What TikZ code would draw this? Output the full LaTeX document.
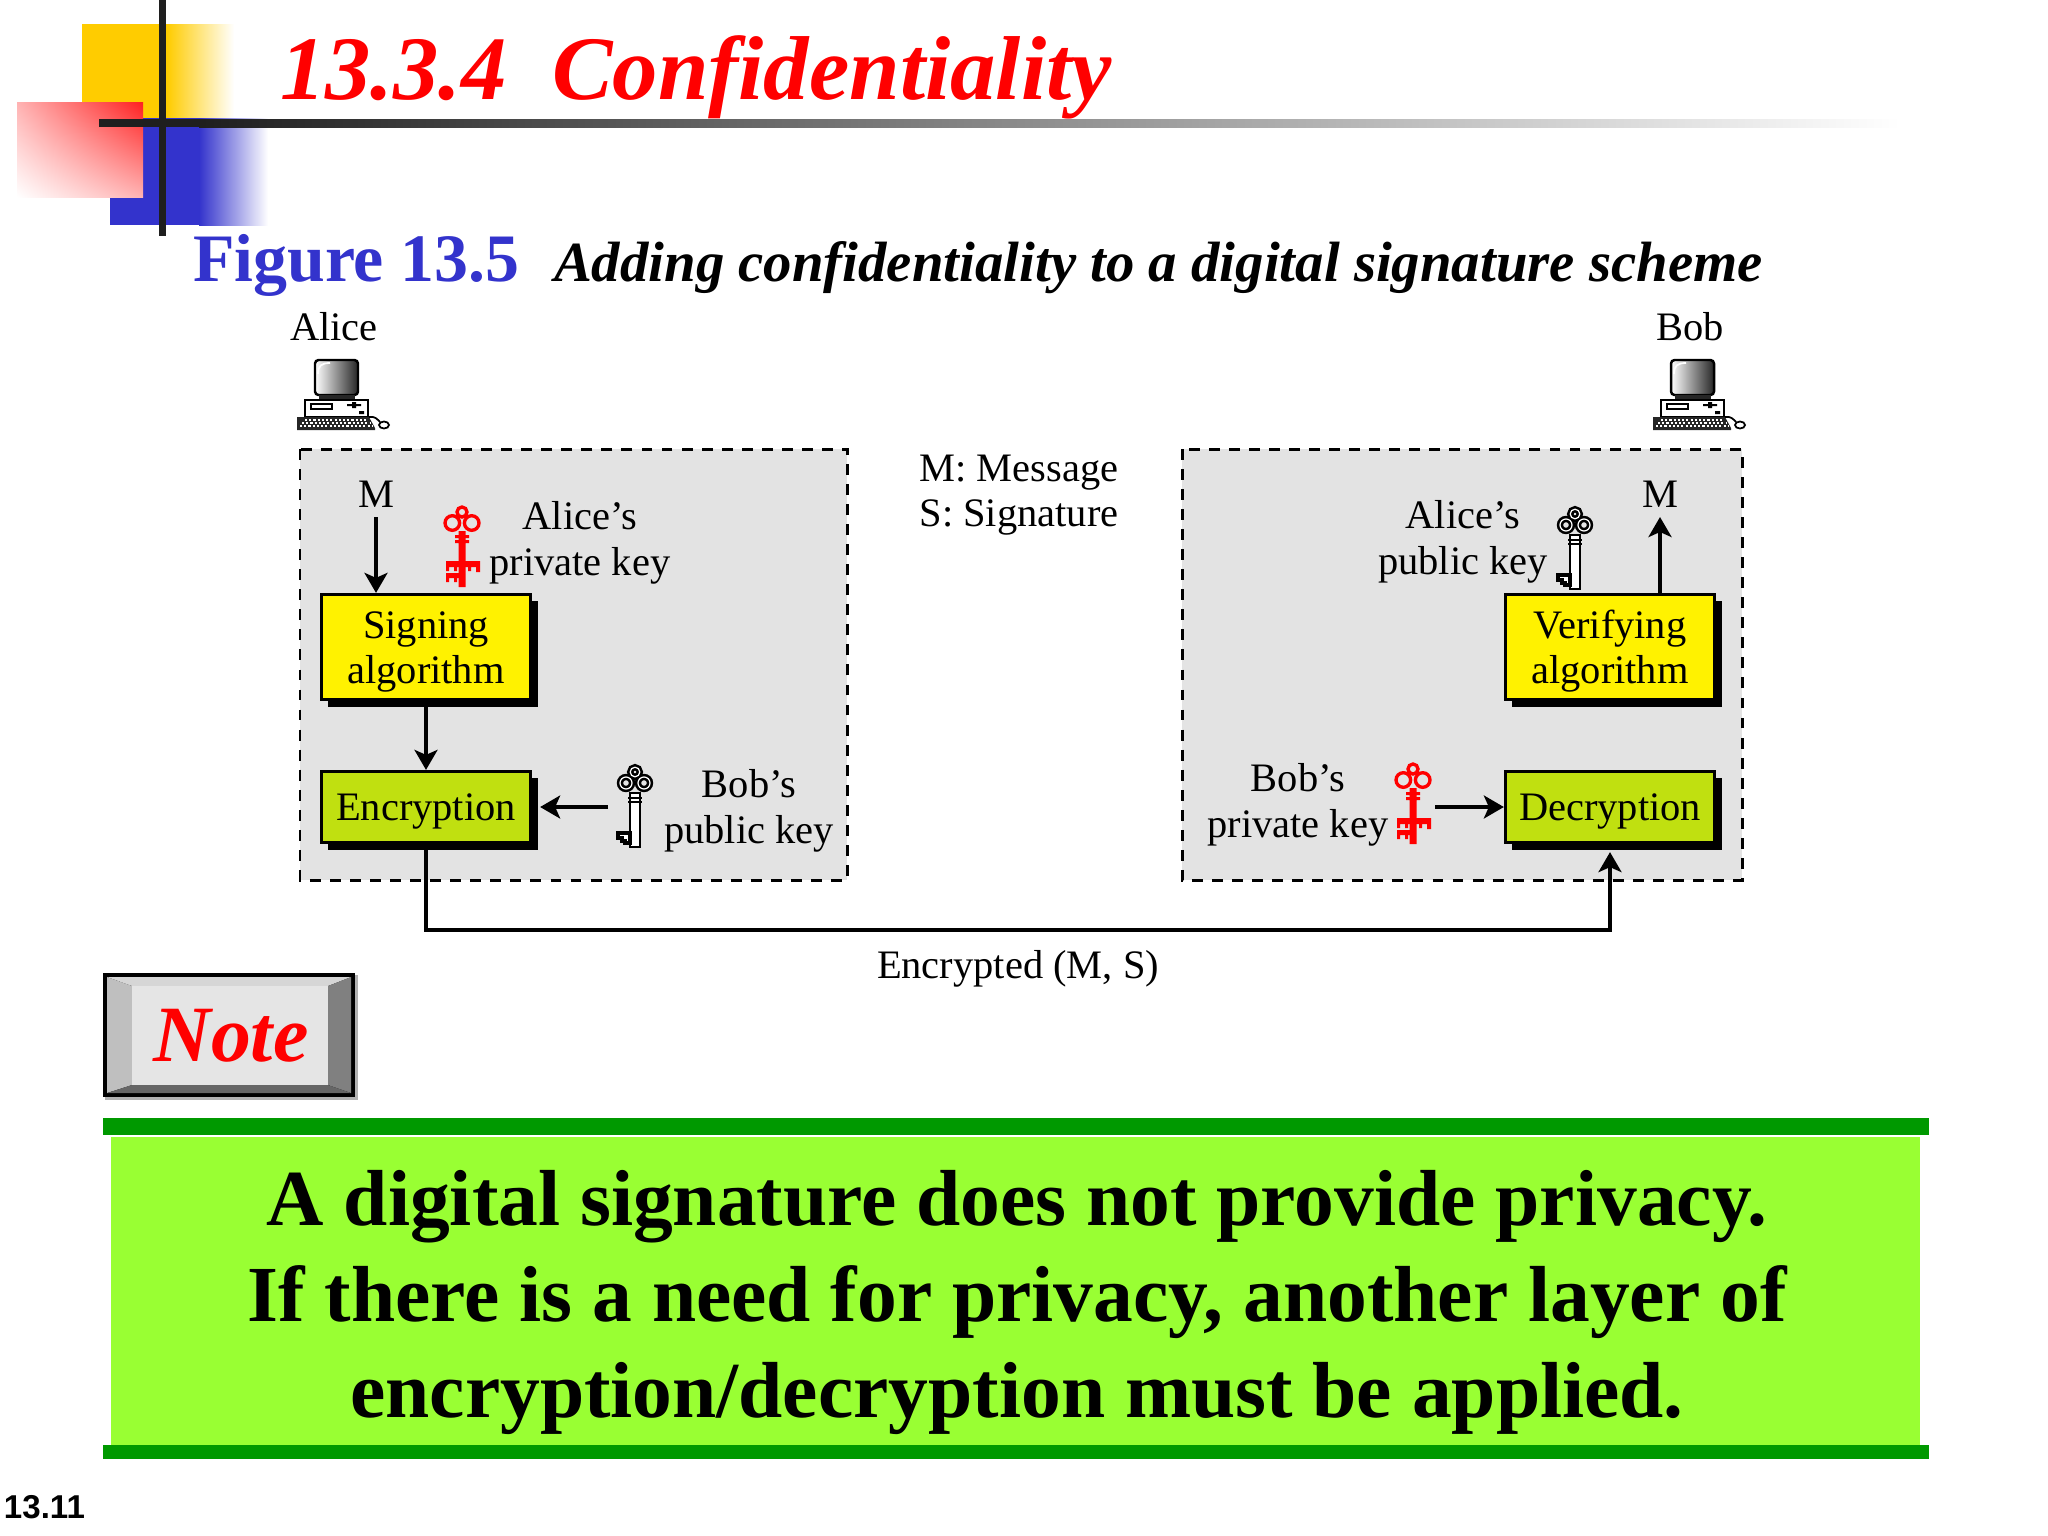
\documentclass[tikz,border=0pt]{standalone}
\usepackage{fontspec}
\setmainfont{Liberation Serif}
\newfontfamily\arialfont{Liberation Sans}
\usetikzlibrary{arrows.meta,calc,shadows,shadings}
\definecolor{slideyellow}{HTML}{FFCC00}
\definecolor{slideblue}{HTML}{3333CC}
\definecolor{slidered}{HTML}{FF2020}
\definecolor{panelgray}{HTML}{E3E3E3}
\definecolor{cipherlime}{HTML}{C0E010}
\definecolor{notegreen}{HTML}{99FF33}
\definecolor{bargreen}{HTML}{009900}
\begin{document}
\begin{tikzpicture}[x=0.01cm,y=-0.01cm]
	\tikzstyle{invisible} = [outer sep=0,inner sep=0,minimum size=0]
	\tikzstyle{textlabel} = [invisible, align=center, font=\fontsize{11.5pt}{13pt}\selectfont]
	\tikzstyle{panel} = [draw=black, fill=panelgray, line width=0.85pt, dash pattern=on 3.1pt off 2.6pt]
	\tikzstyle{shadowbox} = [draw=black, line width=0.9pt, align=center, inner sep=0, minimum width=2.09cm, font=\fontsize{11.5pt}{13pt}\selectfont, drop shadow={shadow xshift=0.07cm, shadow yshift=-0.07cm, opacity=1, fill=black}]
	\tikzstyle{algobox} = [shadowbox, fill=yellow, minimum height=1.05cm, execute at begin node={\rule{0pt}{23.5pt}}]
	\tikzstyle{cipherbox} = [shadowbox, fill=cipherlime, minimum height=0.71cm, execute at begin node={\rule{0pt}{10pt}}]
	\tikzstyle{arrowline} = [line width=1pt, -{Stealth[length=0.2cm,width=0.23cm,inset=0.05cm]}]
	\tikzset{
		privatekey/.pic={
			\draw [red, line width=0.95pt] (0,7) circle [radius=5] (-9.7,18) circle [radius=7.3] (9.7,18) circle [radius=7.3];
			\fill [red] (-3.5,26) rectangle (3.5,82) (-7,30) rectangle (7,33) (-7,35) rectangle (7,38);
			\fill [red] (-16,56) rectangle (18,62) (-16,62) rectangle (-13,66) (-8,62) rectangle (-5,66) (6,62) rectangle (9,66) (14,62) rectangle (18,67);
			\fill [red] (-16,68) rectangle (0,73) (-16,73) rectangle (-13,77) (-8,73) rectangle (-5,77);
		},
		publickey/.pic={
			\draw [black, line width=1.8pt] (0,7) circle [radius=4.8] (-9,18) circle [radius=6] (9,18) circle [radius=6];
			\draw [white, line width=0.35pt] (0,7) circle [radius=4.8] (-9,18) circle [radius=6] (9,18) circle [radius=6];
			\filldraw [fill=white, draw=black, line width=0.8pt] (-5,28) rectangle (5,82);
			\draw [black, line width=0.6pt] (-7,33) -- (7,33) (-7,37) -- (7,37);
			\filldraw [fill=white, draw=black, line width=0.9pt] (-17,68) -- (-5,68) -- (-5,78) -- (-10,78) -- (-10,76) -- (-13,76) -- (-13,73) -- (-17,73) -- cycle;
		},
		computer/.pic={
			\fill [left color=white, right color=black!85, draw=black, line width=0.7pt, rounded corners=1pt] (18,0) rectangle (61,35);
			\draw [white, line width=0.5pt] (21,14) .. controls (21,6) and (24,3) .. (33,3);
			\fill [black!85] (22,35) rectangle (58,40);
			\filldraw [fill=white, draw=black, line width=0.6pt] (8,40) rectangle (71,57);
			\draw [black, line width=0.4pt] (14,44) rectangle (35,49);
			\fill [black] (50,44) rectangle (64,46) (55,42) rectangle (59,48) (62,51) rectangle (67,54);
			\fill [black!85] (0,57) -- (6,57) -- (72,57) -- (78,68) -- (78,70) -- (0,70) -- cycle;
			\draw [white, line width=0.35pt, dash pattern=on 0.6pt off 0.6pt] (8,60) -- (70,60) (5,63) -- (73,63) (3,66) -- (75,66);
			\draw [black, line width=0.5pt] (72,57) .. controls (78,56) and (80,59) .. (83,62);
			\draw [black, fill=white, line width=0.5pt] (87,65) ellipse [x radius=5, y radius=3.5];
		}
	}
	\useasboundingbox (0,0) rectangle (2048,1536);

	% corner ornament
	\fill [slideyellow] (82,24) rectangle (168,118);
	\fill [left color=slideyellow, right color=white] (167,24) rectangle (234,118);
	\fill [slideblue] (110,118) rectangle (200,225);
	\fill [left color=slideblue, right color=white] (199,118) rectangle (268,225);
	\fill [upper right=slidered, lower left=white, upper left=red!30!white, lower right=red!30!white] (17,102) rectangle (143,197);
	\fill [black!88] (159,0) rectangle (166,236);
	\fill [black!88] (99,119) rectangle (200,127);
	\fill [left color=black!88, middle color=black!28, right color=white] (199,119) rectangle (1900,127);

	% headings
	\node [invisible, anchor=base west, text=red, font=\fontsize{25.8pt}{28pt}\selectfont\bfseries\itshape] (title) at (280,99) {13.3.4\ \ Confidentiality};
	\node [invisible, anchor=base west, text=slideblue, font=\fontsize{19.3pt}{22pt}\selectfont\bfseries] (figno) at (193,281) {Figure 13.5};
	\node [invisible, anchor=base west, font=\fontsize{16.15pt}{18pt}\selectfont\bfseries\itshape] (caption) at (554,281) {Adding confidentiality to a digital signature scheme};

	% the two sides
	\node [textlabel] (alice) at (334,327) {Alice};
	\node [textlabel] (bob) at (1690,327) {Bob};
	\pic at (297,360) {computer};
	\pic at (1653,360) {computer};
	\draw [panel] (300,449) rectangle (847,880);
	\draw [panel] (1182,449) rectangle (1742,880);
	\node [textlabel, align=left] (legend) at (1019,495) {M: Message\\S: Signature};

	\node [algobox] (signing) at (426,647) {Signing\\algorithm};
	\node [cipherbox] (encryption) at (426,807) {Encryption};
	\node [algobox] (verifying) at (1610,647) {Verifying\\algorithm};
	\node [cipherbox] (decryption) at (1610,807) {Decryption};

	\node [textlabel] (msgleft) at (376,494) {M};
	\node [textlabel] (msgright) at (1660,494) {M};
	\node [textlabel] (alicepriv) at (580,543) {Alice’s\\private key};
	\node [textlabel] (bobpub) at (749,811) {Bob’s\\public key};
	\node [textlabel] (alicepub) at (1463,542) {Alice’s\\public key};
	\node [textlabel] (bobpriv) at (1298,805) {Bob’s\\private key};
	\node [textlabel] (wirelabel) at (1018,969) {Encrypted (M, S)};

	\pic at (462,505) {privatekey};
	\pic at (1413,762) {privatekey};
	\pic at (635,765) {publickey};
	\pic at (1575,507) {publickey};

	% connectors
	\coordinate (msgin) at (376,517);
	\coordinate (msgout) at (1660,517);
	\coordinate (bobkeyout) at (608,807);
	\coordinate (alicekeyout) at (1435,807);
	\coordinate (wireleft) at (426,930);
	\coordinate (wireright) at (1610,930);
	\draw [arrowline] (msgin) -- (msgin |- signing.north);
	\draw [arrowline] (signing.south) -- (encryption.north);
	\draw [arrowline] (bobkeyout) -- ([xshift=0.08cm]encryption.east);
	\draw [arrowline] (verifying.north -| msgout) -- (msgout);
	\draw [arrowline] (alicekeyout) -- (decryption.west);
	\draw [arrowline] (encryption.south) -- (wireleft) -- (wireright) -- ([yshift=-0.08cm]decryption.south);

	% note button
	\fill [black!30] (105,975) rectangle (358,1100);
	\fill [black] (103,973) rectangle (355,1097);
	\fill [black!16] (107,977) -- (351,977) -- (328,986) -- (132,986) -- cycle;
	\fill [black!25] (107,977) -- (132,986) -- (132,1085) -- (107,1093) -- cycle;
	\fill [black!50] (351,977) -- (351,1093) -- (328,1085) -- (328,986) -- cycle;
	\fill [black!60] (107,1093) -- (132,1085) -- (328,1085) -- (351,1093) -- cycle;
	\fill [black!10] (132,986) rectangle (328,1085);
	\node [invisible, text=red, font=\fontsize{22.7pt}{25pt}\selectfont\bfseries\itshape] (notetext) at (231,1036) {Note};

	% note panel
	\fill [bargreen] (103,1118) rectangle (1929,1135);
	\fill [notegreen] (111,1137) rectangle (1920,1445);
	\fill [bargreen] (103,1445) rectangle (1929,1459);
	\node [invisible, align=center, font=\fontsize{22.6pt}{27.3pt}\selectfont\bfseries] (notebody) at (1017,1302) {A digital signature does not provide privacy.\\If there is a need for privacy, another layer of\\encryption/decryption must be applied.};

	\node [invisible, anchor=base west, font=\fontsize{9.4pt}{11pt}\selectfont\arialfont\bfseries] (pageno) at (4,1518) {13.11};
\end{tikzpicture}
\end{document}
